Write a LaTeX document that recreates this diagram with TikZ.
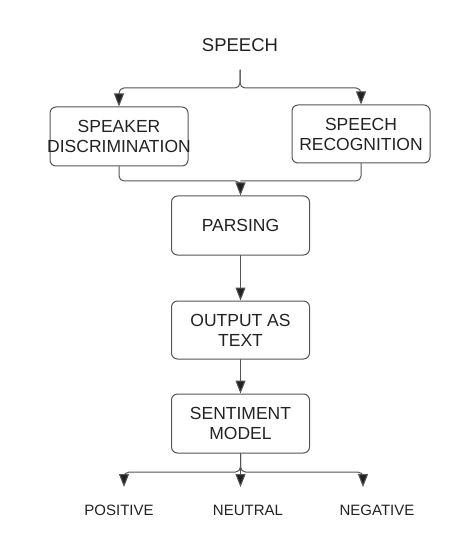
\documentclass[tikz,border=0pt]{standalone}
\usepackage{fontspec}
\setmainfont{Liberation Sans}
\usetikzlibrary{arrows.meta}
\definecolor{linegray}{HTML}{555555}
\definecolor{textgray}{HTML}{222222}

\begin{document}
\begin{tikzpicture}[line cap=round,line join=round,x=1pt,y=-1pt,
  box/.style={draw=linegray,line width=1pt,rounded corners=6pt,minimum width=138pt,minimum height=59pt,
    align=center,inner sep=0pt,text=textgray,font=\fontsize{17.5}{20}\selectfont},
  lbl/.style={text=textgray,inner sep=0pt,font=\fontsize{15}{18}\selectfont},
  flow/.style={draw=linegray,line width=1pt,rounded corners=5pt,
    -{Triangle[length=13pt,width=10pt,fill=textgray]}}]
\useasboundingbox (0,0) rectangle (474,553);
%top
\node[text=textgray,inner sep=0pt,font=\fontsize{18.5}{22}\selectfont] (speech) at (240,45) {SPEECH};
\coordinate (split) at (240,70);
\node[box] (spkr) at (119,136.5) {SPEAKER\\\makebox[0pt]{DISCRIMINATION}};
\node[box,minimum height=58pt] (recog) at (361,134) {SPEECH\\RECOGNITION};
\draw[flow] (split) |- (119,88) -- (spkr.north);
\draw[flow] (split) |- (361,88) -- (recog.north);
%middle
\node[box] (parse) at (240.5,225.5) {PARSING};
\coordinate (join) at (240.5,181);
\draw[flow] (spkr.south) |- (join) -- (parse.north);
\draw[linegray,line width=1pt,rounded corners=5pt] (recog.south) |- (join);
\node[box,minimum height=58pt] (out) at (240.5,330) {OUTPUT AS\\TEXT};
\draw[flow] (parse) -- (out);
\node[box] (senti) at (240.5,423.5) {SENTIMENT\\MODEL};
\draw[flow] (out) -- (senti);
%bottom
\node[lbl] (pos) at (119,510) {POSITIVE};
\node[lbl] (neu) at (248,510) {NEUTRAL};
\node[lbl] (neg) at (377,510) {NEGATIVE};
\coordinate (tpos) at (124,487);
\coordinate (tneu) at (240.5,487);
\coordinate (tneg) at (363,487);
\draw[flow] (senti.south) |- (124,472) -- (tpos);
\draw[flow] (senti.south) |- (363,472) -- (tneg);
\draw[flow] (senti.south) -- (tneu);
\end{tikzpicture}
\end{document}
